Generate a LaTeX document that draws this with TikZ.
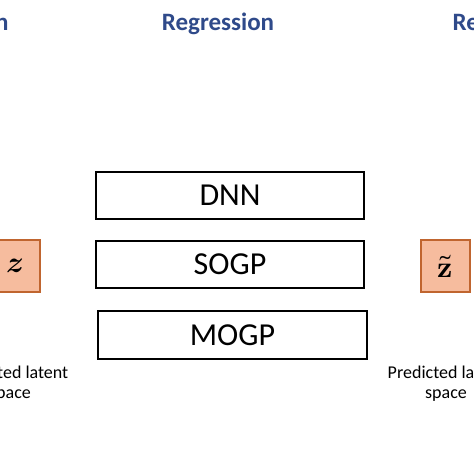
\documentclass[tikz,border=0pt]{standalone}
\usepackage{fontspec}
\usepackage{unicode-math}
\setmainfont{Carlito}
\definecolor{titleblue}{HTML}{2F4A8A}
\definecolor{latfill}{HTML}{F6BC9E}
\definecolor{latdraw}{HTML}{C0652F}
\begin{document}
\begin{tikzpicture}[x=1pt,y=-1pt,
  modelbox/.style={draw=black,line width=1.6pt,fill=white,inner sep=0pt,font=\fontsize{32}{36}\selectfont},
  latbox/.style={draw=latdraw,line width=1.6pt,fill=latfill,inner sep=0pt,minimum width=50pt,minimum height=52pt,font=\fontsize{30}{32}\selectfont},
  titletext/.style={text=titleblue,font=\fontsize{25}{28}\selectfont\bfseries,anchor=base},
  captext/.style={font=\fontsize{18}{20}\selectfont,align=center,anchor=north}]
\useasboundingbox (0,0) rectangle (474,474);
\clip (0,0) rectangle (474,474);
\fill[white] (0,0) rectangle (474,474);
\node[titletext,anchor=base east] (t1) at (12,30) {n};
\node[titletext] (t2) at (218,30) {Regression};
\node[titletext,anchor=base west] (t3) at (449,30) {Re};
\node[modelbox,minimum width=268pt,minimum height=47pt] (dnn) at (230,195.5) {DNN};
\node[modelbox,minimum width=268pt,minimum height=47pt] (sogp) at (230,264.5) {SOGP};
\node[modelbox,minimum width=269pt,minimum height=48pt] (mogp) at (232.5,335) {MOGP};
\node[latbox] (z) at (15,266) {$\symbfit{z}$};
\node[latbox,minimum width=49pt] (zt) at (445.5,266) {$\tilde{\symbf{z}}$};
\node[captext] (c1) at (10,362) {Predicted latent\\space};
\node[captext] (c2) at (446,362) {Predicted latent\\space};
\end{tikzpicture}
\end{document}
